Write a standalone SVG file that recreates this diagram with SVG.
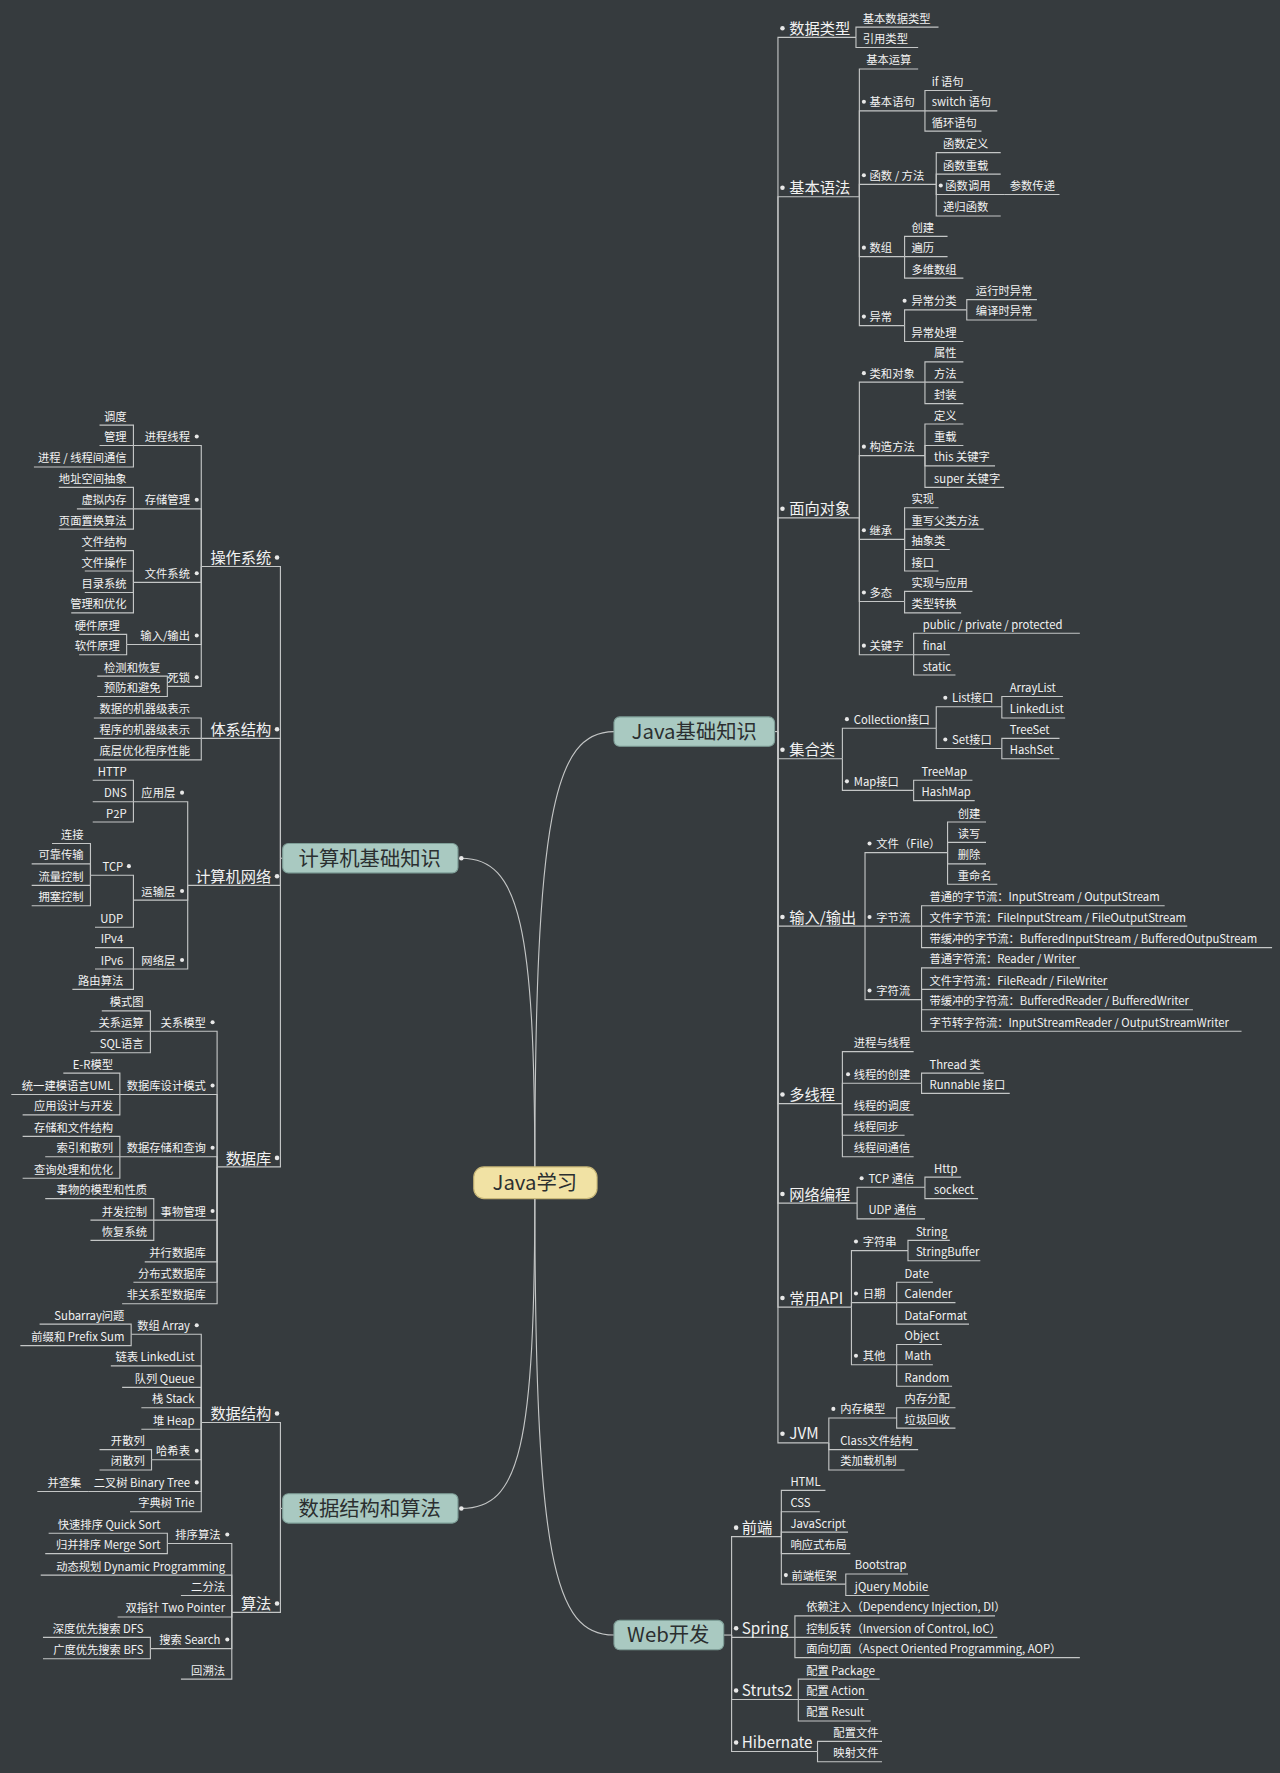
<svg xmlns="http://www.w3.org/2000/svg" width="1280" height="1773" viewBox="0 0 1280 1773">
<style>
.l{fill:none;stroke:#c4c6c6;stroke-width:1}
text{font-family:"Noto Sans CJK SC","Liberation Sans",sans-serif;fill:#f2f2f2}
.s{font-size:10px}
.c{font-size:13.5px}
.e{text-anchor:end}
.b{font-size:18px;fill:#2b2f30}
.d{fill:#e8e8e8}
.bx{fill:#a9c9c1;stroke:#7f9f98}
</style>
<rect width="1280" height="1773" fill="#363b3e"/>
<g transform="scale(1.13074)">
<g id="connectors" class="l">
<path d="M473 1040 C473 720 490 647 543 647"/>
<path d="M473 1040 C473 820 460 759 408 759"/>
<path d="M473 1052 C473 1280 460 1334 408 1334"/>
<path d="M473 1052 C473 1380 490 1446 543 1446"/>
<!-- Java trunk -->
<path d="M685 647 H688"/>
<path d="M688 647 V33 H757"/><path d="M757 33 V24 H830"/><path d="M757 33 V42 H812"/>
<path d="M688 647 V174 H760"/>
<path d="M760 174 V61 H812"/>
<path d="M760 174 V98 H818"/><path d="M818 98 V80 H860"/><path d="M818 98 H882"/><path d="M818 98 V116 H868"/>
<path d="M760 174 V163 H828"/><path d="M828 163 V135 H885"/><path d="M828 163 V154 H885"/><path d="M828 163 V172 H888"/><path d="M888 172 H937"/><path d="M828 163 V191 H885"/>
<path d="M760 174 V227 H800"/><path d="M800 227 V209 H838"/><path d="M800 227 H838"/><path d="M800 227 V246 H852"/>
<path d="M760 174 V288 H800"/><path d="M800 288 V274 H855"/><path d="M855 274 V265 H917"/><path d="M855 274 V283 H917"/><path d="M800 288 V302 H852"/>
<path d="M688 647 V458 H760"/>
<path d="M760 458 V338 H818"/><path d="M818 338 V320 H852"/><path d="M818 338 H852"/><path d="M818 338 V357 H852"/>
<path d="M760 458 V403 H818"/><path d="M818 403 V375 H852"/><path d="M818 403 V394 H852"/><path d="M818 403 V412 H880"/><path d="M818 403 V431 H888"/>
<path d="M760 458 V477 H800"/><path d="M800 477 V449 H830"/><path d="M800 477 V468 H870"/><path d="M800 477 V486 H840"/><path d="M800 477 V505 H830"/>
<path d="M760 458 V532 H800"/><path d="M800 532 V523 H860"/><path d="M800 532 V542 H850"/>
<path d="M760 458 V579 H808"/><path d="M808 579 V560 H955"/><path d="M808 579 H840"/><path d="M808 579 V597 H845"/>
<path d="M688 647 V671 H745"/>
<path d="M745 671 V644 H828"/><path d="M828 644 V625 H886"/><path d="M886 625 V616 H940"/><path d="M886 625 V635 H942"/><path d="M828 644 V662 H886"/><path d="M886 662 V653 H937"/><path d="M886 662 V671 H937"/>
<path d="M745 671 V699 H808"/><path d="M808 699 V690 H860"/><path d="M808 699 V708 H862"/>
<path d="M688 647 V819 H765"/>
<path d="M765 819 V754 H838"/><path d="M838 754 V727 H872"/><path d="M838 754 V745 H872"/><path d="M838 754 V764 H872"/><path d="M838 754 V782 H882"/>
<path d="M765 819 H815"/><path d="M815 819 V801 H1030"/><path d="M815 819 H1050"/><path d="M815 819 V838 H1125"/>
<path d="M765 819 V884 H815"/><path d="M815 884 V856 H955"/><path d="M815 884 V875 H980"/><path d="M815 884 V893 H1055"/><path d="M815 884 V912 H1098"/>
<path d="M688 647 V976 H745"/>
<path d="M745 976 V930 H808"/><path d="M745 976 V958 H815"/><path d="M815 958 V949 H870"/><path d="M815 958 V967 H893"/><path d="M745 976 V986 H808"/><path d="M745 976 V1004 H800"/><path d="M745 976 V1023 H808"/>
<path d="M688 647 V1064 H758"/>
<path d="M758 1064 V1050 H818"/><path d="M818 1050 V1041 H850"/><path d="M818 1050 V1060 H865"/><path d="M758 1064 V1078 H818"/>
<path d="M688 647 V1156 H753"/>
<path d="M753 1156 V1106 H803"/><path d="M803 1106 V1097 H840"/><path d="M803 1106 V1115 H867"/>
<path d="M753 1156 V1152 H793"/><path d="M793 1152 V1134 H825"/><path d="M793 1152 H845"/><path d="M793 1152 V1171 H857"/>
<path d="M753 1156 V1207 H793"/><path d="M793 1207 V1189 H833"/><path d="M793 1207 H825"/><path d="M793 1207 V1226 H842"/>
<path d="M688 647 V1276 H733"/>
<path d="M733 1276 V1254 H793"/><path d="M793 1254 V1245 H845"/><path d="M793 1254 V1263 H845"/><path d="M733 1276 V1282 H812"/><path d="M733 1276 V1300 H800"/>
<!-- Web -->
<path d="M640 1446 H647"/>
<path d="M647 1446 V1359 H691"/><path d="M691 1359 V1318 H730"/><path d="M691 1359 V1337 H725"/><path d="M691 1359 V1355 H750"/><path d="M691 1359 V1374 H752"/><path d="M691 1359 V1401 H748"/><path d="M748 1401 V1392 H803"/><path d="M748 1401 V1411 H822"/>
<path d="M647 1446 V1448 H703"/><path d="M703 1448 V1429 H880"/><path d="M703 1448 H882"/><path d="M703 1448 V1466 H955"/>
<path d="M647 1446 V1503 H706"/><path d="M706 1503 V1485 H778"/><path d="M706 1503 H768"/><path d="M706 1503 V1522 H770"/>
<path d="M647 1446 V1549 H723"/><path d="M723 1549 V1540 H780"/><path d="M723 1549 V1558 H780"/>
<!-- Computer basics -->
<path d="M250 759 H248"/>
<path d="M248 759 V501 H178"/>
<path d="M178 501 V394 H118"/><path d="M118 394 V376 H88"/><path d="M118 394 H88"/><path d="M118 394 V413 H30"/>
<path d="M178 501 V450 H118"/><path d="M118 450 V431 H52"/><path d="M118 450 H68"/><path d="M118 450 V468 H52"/>
<path d="M178 501 V515 H118"/><path d="M118 515 V487 H75"/><path d="M118 515 V505 H75"/><path d="M118 515 V524 H75"/><path d="M118 515 V542 H63"/>
<path d="M178 501 V570 H112"/><path d="M112 570 V561 H70"/><path d="M112 570 V579 H70"/>
<path d="M178 501 V607 H148"/><path d="M148 607 V598 H86"/><path d="M148 607 V616 H86"/>
<path d="M248 759 V653 H178"/><path d="M178 653 V635 H83"/><path d="M178 653 H83"/><path d="M178 653 V672 H83"/>
<path d="M248 759 V783 H166"/>
<path d="M166 783 V709 H118"/><path d="M118 709 V690 H82"/><path d="M118 709 H82"/><path d="M118 709 V727 H82"/>
<path d="M166 783 V796 H118"/><path d="M118 796 V774 H80"/><path d="M80 774 V746 H46"/><path d="M80 774 V764 H28"/><path d="M80 774 V783 H28"/><path d="M80 774 V801 H28"/><path d="M118 796 V820 H84"/>
<path d="M166 783 V857 H118"/><path d="M118 857 V838 H84"/><path d="M118 857 H84"/><path d="M118 857 V875 H64"/>
<path d="M248 759 V1032 H192"/>
<path d="M192 1032 V912 H133"/><path d="M133 912 V894 H90"/><path d="M133 912 H80"/><path d="M133 912 V931 H80"/>
<path d="M192 1032 V968 H106"/><path d="M106 968 V949 H56"/><path d="M106 968 H10"/><path d="M106 968 V986 H20"/>
<path d="M192 1032 V1023 H106"/><path d="M106 1023 V1005 H20"/><path d="M106 1023 H40"/><path d="M106 1023 V1042 H20"/>
<path d="M192 1032 V1079 H136"/><path d="M136 1079 V1060 H40"/><path d="M136 1079 H80"/><path d="M136 1079 V1097 H80"/>
<path d="M192 1032 V1116 H128"/><path d="M192 1032 V1134 H118"/><path d="M192 1032 V1153 H108"/>
<!-- DS & Algo -->
<path d="M250 1334 H248"/>
<path d="M248 1334 V1258 H178"/>
<path d="M178 1258 V1180 H116"/><path d="M116 1180 V1171 H35"/><path d="M116 1180 V1190 H18"/>
<path d="M178 1258 V1208 H98"/><path d="M178 1258 V1227 H108"/><path d="M178 1258 V1245 H125"/><path d="M178 1258 V1264 H125"/>
<path d="M178 1258 V1291 H134"/><path d="M134 1291 V1282 H88"/><path d="M134 1291 V1300 H88"/>
<path d="M178 1258 V1319 H78"/><path d="M78 1319 H33"/>
<path d="M178 1258 V1337 H115"/>
<path d="M248 1334 V1426 H205"/>
<path d="M205 1426 V1365 H148"/><path d="M148 1365 V1356 H43"/><path d="M148 1365 V1374 H40"/>
<path d="M205 1426 V1393 H36"/><path d="M205 1426 V1411 H160"/><path d="M205 1426 V1430 H104"/>
<path d="M205 1426 V1458 H133"/><path d="M133 1458 V1448 H38"/><path d="M133 1458 V1467 H38"/>
<path d="M205 1426 V1485 H160"/>
</g>

<g id="root"><rect x="419" y="1032" width="109" height="28" rx="9" fill="#f1e2a4" stroke="#c9b878"/><text class="b" x="473" y="1052.5" text-anchor="middle">Java学习</text></g>
<g id="java-basics"><rect class="bx" x="543" y="634" width="142" height="26" rx="5"/><text class="b" x="614" y="653.5" text-anchor="middle">Java基础知识</text></g>
<g id="cs-basics"><rect class="bx" x="250" y="746" width="155" height="26" rx="5"/><text class="b" x="327" y="765.5" text-anchor="middle">计算机基础知识</text><circle class="d" cx="408" cy="759" r="2"/></g>
<g id="ds-algo"><rect class="bx" x="250" y="1321" width="155" height="26" rx="5"/><text class="b" x="327" y="1340.5" text-anchor="middle">数据结构和算法</text><circle class="d" cx="408" cy="1334" r="2"/></g>
<g id="web"><rect class="bx" x="543" y="1433" width="97" height="26" rx="5"/><text class="b" x="591" y="1452.5" text-anchor="middle">Web开发</text></g>

<g id="java-nodes">
<circle class="d" cx="692" cy="25" r="2"/><text class="c" x="698" y="30">数据类型</text>
<text class="s" x="763" y="20">基本数据类型</text><text class="s" x="763" y="38">引用类型</text>
<circle class="d" cx="692" cy="166" r="2"/><text class="c" x="698" y="171">基本语法</text>
<text class="s" x="766" y="57">基本运算</text>
<circle class="d" cx="764" cy="90" r="1.8"/><text class="s" x="769" y="94">基本语句</text>
<text class="s" x="824" y="76">if 语句</text><text class="s" x="824" y="94">switch 语句</text><text class="s" x="824" y="112">循环语句</text>
<circle class="d" cx="764" cy="155" r="1.8"/><text class="s" x="769" y="159">函数 / 方法</text>
<text class="s" x="834" y="131">函数定义</text><text class="s" x="834" y="150">函数重载</text><circle class="d" cx="832" cy="164" r="1.8"/><text class="s" x="836" y="168">函数调用</text><text class="s" x="893" y="168">参数传递</text><text class="s" x="834" y="187">递归函数</text>
<circle class="d" cx="764" cy="219" r="1.8"/><text class="s" x="769" y="223">数组</text>
<text class="s" x="806" y="205">创建</text><text class="s" x="806" y="223">遍历</text><text class="s" x="806" y="242">多维数组</text>
<circle class="d" cx="764" cy="280" r="1.8"/><text class="s" x="769" y="284">异常</text>
<circle class="d" cx="800" cy="266" r="1.8"/><text class="s" x="806" y="270">异常分类</text><text class="s" x="863" y="261">运行时异常</text><text class="s" x="863" y="279">编译时异常</text><text class="s" x="806" y="298">异常处理</text>
<circle class="d" cx="692" cy="450" r="2"/><text class="c" x="698" y="455">面向对象</text>
<circle class="d" cx="764" cy="330" r="1.8"/><text class="s" x="769" y="334">类和对象</text>
<text class="s" x="826" y="316">属性</text><text class="s" x="826" y="334">方法</text><text class="s" x="826" y="353">封装</text>
<circle class="d" cx="764" cy="395" r="1.8"/><text class="s" x="769" y="399">构造方法</text>
<text class="s" x="826" y="371">定义</text><text class="s" x="826" y="390">重载</text><text class="s" x="826" y="408">this 关键字</text><text class="s" x="826" y="427">super 关键字</text>
<circle class="d" cx="764" cy="469" r="1.8"/><text class="s" x="769" y="473">继承</text>
<text class="s" x="806" y="445">实现</text><text class="s" x="806" y="464">重写父类方法</text><text class="s" x="806" y="482">抽象类</text><text class="s" x="806" y="501">接口</text>
<circle class="d" cx="764" cy="524" r="1.8"/><text class="s" x="769" y="528">多态</text>
<text class="s" x="806" y="519">实现与应用</text><text class="s" x="806" y="538">类型转换</text>
<circle class="d" cx="764" cy="571" r="1.8"/><text class="s" x="769" y="575">关键字</text>
<text class="s" x="816" y="556">public / private / protected</text><text class="s" x="816" y="575">final</text><text class="s" x="816" y="593">static</text>
<circle class="d" cx="692" cy="663" r="2"/><text class="c" x="698" y="668">集合类</text>
<circle class="d" cx="749" cy="636" r="1.8"/><text class="s" x="755" y="640">Collection接口</text>
<circle class="d" cx="836" cy="617" r="1.8"/><text class="s" x="842" y="621">List接口</text><text class="s" x="893" y="612">ArrayList</text><text class="s" x="893" y="631">LinkedList</text>
<circle class="d" cx="836" cy="654" r="1.8"/><text class="s" x="842" y="658">Set接口</text><text class="s" x="893" y="649">TreeSet</text><text class="s" x="893" y="667">HashSet</text>
<circle class="d" cx="749" cy="691" r="1.8"/><text class="s" x="755" y="695">Map接口</text><text class="s" x="815" y="686">TreeMap</text><text class="s" x="815" y="704">HashMap</text>
<circle class="d" cx="692" cy="811" r="2"/><text class="c" x="698" y="816">输入/输出</text>
<circle class="d" cx="769" cy="746" r="1.8"/><text class="s" x="775" y="750">文件（File）</text>
<text class="s" x="847" y="723">创建</text><text class="s" x="847" y="741">读写</text><text class="s" x="847" y="760">删除</text><text class="s" x="847" y="778">重命名</text>
<circle class="d" cx="769" cy="811" r="1.8"/><text class="s" x="775" y="815">字节流</text>
<text class="s" x="822" y="797">普通的字节流：InputStream / OutputStream</text><text class="s" x="822" y="815">文件字节流：FileInputStream / FileOutputStream</text><text class="s" x="822" y="834">带缓冲的字节流：BufferedInputStream / BufferedOutpuStream</text>
<circle class="d" cx="769" cy="876" r="1.8"/><text class="s" x="775" y="880">字符流</text>
<text class="s" x="822" y="852">普通字符流：Reader / Writer</text><text class="s" x="822" y="871">文件字符流：FileReadr / FileWriter</text><text class="s" x="822" y="889">带缓冲的字符流：BufferedReader / BufferedWriter</text><text class="s" x="822" y="908">字节转字符流：InputStreamReader / OutputStreamWriter</text>
<circle class="d" cx="692" cy="968" r="2"/><text class="c" x="698" y="973">多线程</text>
<text class="s" x="755" y="926">进程与线程</text><circle class="d" cx="750" cy="950" r="1.8"/><text class="s" x="755" y="954">线程的创建</text>
<text class="s" x="822" y="945">Thread 类</text><text class="s" x="822" y="963">Runnable 接口</text>
<text class="s" x="755" y="982">线程的调度</text><text class="s" x="755" y="1000">线程同步</text><text class="s" x="755" y="1019">线程间通信</text>
<circle class="d" cx="692" cy="1056" r="2"/><text class="c" x="698" y="1061">网络编程</text>
<circle class="d" cx="762" cy="1042" r="1.8"/><text class="s" x="768" y="1046">TCP 通信</text><text class="s" x="826" y="1037">Http</text><text class="s" x="826" y="1056">sockect</text><text class="s" x="768" y="1074">UDP 通信</text>
<circle class="d" cx="692" cy="1148" r="2"/><text class="c" x="698" y="1153">常用API</text>
<circle class="d" cx="757" cy="1098" r="1.8"/><text class="s" x="763" y="1102">字符串</text><text class="s" x="810" y="1093">String</text><text class="s" x="810" y="1111">StringBuffer</text>
<circle class="d" cx="757" cy="1144" r="1.8"/><text class="s" x="763" y="1148">日期</text><text class="s" x="800" y="1130">Date</text><text class="s" x="800" y="1148">Calender</text><text class="s" x="800" y="1167">DataFormat</text>
<circle class="d" cx="757" cy="1199" r="1.8"/><text class="s" x="763" y="1203">其他</text><text class="s" x="800" y="1185">Object</text><text class="s" x="800" y="1203">Math</text><text class="s" x="800" y="1222">Random</text>
<circle class="d" cx="692" cy="1268" r="2"/><text class="c" x="698" y="1273">JVM</text>
<circle class="d" cx="737" cy="1246" r="1.8"/><text class="s" x="743" y="1250">内存模型</text><text class="s" x="800" y="1241">内存分配</text><text class="s" x="800" y="1259">垃圾回收</text>
<text class="s" x="743" y="1278">Class文件结构</text><text class="s" x="743" y="1296">类加载机制</text>
</g>

<g id="web-nodes">
<circle class="d" cx="651" cy="1351" r="2"/><text class="c" x="656" y="1356">前端</text>
<text class="s" x="699" y="1314">HTML</text><text class="s" x="699" y="1333">CSS</text><text class="s" x="699" y="1351">JavaScript</text><text class="s" x="699" y="1370">响应式布局</text>
<circle class="d" cx="695" cy="1393" r="1.8"/><text class="s" x="700" y="1397">前端框架</text><text class="s" x="756" y="1388">Bootstrap</text><text class="s" x="756" y="1407">jQuery Mobile</text>
<circle class="d" cx="651" cy="1440" r="2"/><text class="c" x="656" y="1445">Spring</text>
<text class="s" x="713" y="1425">依赖注入（Dependency Injection, DI）</text><text class="s" x="713" y="1444">控制反转（Inversion of Control, IoC）</text><text class="s" x="713" y="1462">面向切面（Aspect Oriented Programming, AOP）</text>
<circle class="d" cx="651" cy="1495" r="2"/><text class="c" x="656" y="1500">Struts2</text>
<text class="s" x="713" y="1481">配置 Package</text><text class="s" x="713" y="1499">配置 Action</text><text class="s" x="713" y="1518">配置 Result</text>
<circle class="d" cx="651" cy="1541" r="2"/><text class="c" x="656" y="1546">Hibernate</text>
<text class="s" x="737" y="1536">配置文件</text><text class="s" x="737" y="1554">映射文件</text>
</g>

<g id="cs-nodes">
<text class="c e" x="240" y="498">操作系统</text><circle class="d" cx="245" cy="493" r="2"/>
<text class="s e" x="168" y="390">进程线程</text><circle class="d" cx="174" cy="386" r="1.8"/>
<text class="s e" x="112" y="372">调度</text><text class="s e" x="112" y="390">管理</text><text class="s e" x="112" y="409">进程 / 线程间通信</text>
<text class="s e" x="168" y="446">存储管理</text><circle class="d" cx="174" cy="442" r="1.8"/>
<text class="s e" x="112" y="427">地址空间抽象</text><text class="s e" x="112" y="446">虚拟内存</text><text class="s e" x="112" y="464">页面置换算法</text>
<text class="s e" x="168" y="511">文件系统</text><circle class="d" cx="174" cy="507" r="1.8"/>
<text class="s e" x="112" y="483">文件结构</text><text class="s e" x="112" y="501">文件操作</text><text class="s e" x="112" y="520">目录系统</text><text class="s e" x="112" y="538">管理和优化</text>
<text class="s e" x="168" y="566">输入/输出</text><circle class="d" cx="174" cy="562" r="1.8"/>
<text class="s e" x="106" y="557">硬件原理</text><text class="s e" x="106" y="575">软件原理</text>
<text class="s e" x="168" y="603">死锁</text><circle class="d" cx="174" cy="599" r="1.8"/>
<text class="s e" x="142" y="594">检测和恢复</text><text class="s e" x="142" y="612">预防和避免</text>
<text class="c e" x="240" y="650">体系结构</text><circle class="d" cx="245" cy="645" r="2"/>
<text class="s e" x="168" y="631">数据的机器级表示</text><text class="s e" x="168" y="649">程序的机器级表示</text><text class="s e" x="168" y="668">底层优化程序性能</text>
<text class="c e" x="240" y="780">计算机网络</text><circle class="d" cx="245" cy="775" r="2"/>
<text class="s e" x="155" y="705">应用层</text><circle class="d" cx="161" cy="701" r="1.8"/>
<text class="s e" x="112" y="686">HTTP</text><text class="s e" x="112" y="705">DNS</text><text class="s e" x="112" y="723">P2P</text>
<text class="s e" x="155" y="792">运输层</text><circle class="d" cx="161" cy="788" r="1.8"/>
<text class="s e" x="109" y="770">TCP</text><circle class="d" cx="114" cy="766" r="1.8"/>
<text class="s e" x="74" y="742">连接</text><text class="s e" x="74" y="760">可靠传输</text><text class="s e" x="74" y="779">流量控制</text><text class="s e" x="74" y="797">拥塞控制</text>
<text class="s e" x="109" y="816">UDP</text>
<text class="s e" x="155" y="853">网络层</text><circle class="d" cx="161" cy="849" r="1.8"/>
<text class="s e" x="109" y="834">IPv4</text><text class="s e" x="109" y="853">IPv6</text><text class="s e" x="109" y="871">路由算法</text>
<text class="c e" x="240" y="1029">数据库</text><circle class="d" cx="245" cy="1024" r="2"/>
<text class="s e" x="182" y="908">关系模型</text><circle class="d" cx="188" cy="904" r="1.8"/>
<text class="s e" x="127" y="890">模式图</text><text class="s e" x="127" y="908">关系运算</text><text class="s e" x="127" y="927">SQL语言</text>
<text class="s e" x="182" y="964">数据库设计模式</text><circle class="d" cx="188" cy="960" r="1.8"/>
<text class="s e" x="100" y="945">E-R模型</text><text class="s e" x="100" y="964">统一建模语言UML</text><text class="s e" x="100" y="982">应用设计与开发</text>
<text class="s e" x="182" y="1019">数据存储和查询</text><circle class="d" cx="188" cy="1015" r="1.8"/>
<text class="s e" x="100" y="1001">存储和文件结构</text><text class="s e" x="100" y="1019">索引和散列</text><text class="s e" x="100" y="1038">查询处理和优化</text>
<text class="s e" x="182" y="1075">事物管理</text><circle class="d" cx="188" cy="1071" r="1.8"/>
<text class="s e" x="130" y="1056">事物的模型和性质</text><text class="s e" x="130" y="1075">并发控制</text><text class="s e" x="130" y="1093">恢复系统</text>
<text class="s e" x="182" y="1112">并行数据库</text><text class="s e" x="182" y="1130">分布式数据库</text><text class="s e" x="182" y="1149">非关系型数据库</text>
</g>

<g id="ds-nodes">
<text class="c e" x="240" y="1255">数据结构</text><circle class="d" cx="245" cy="1250" r="2"/>
<text class="s e" x="168" y="1176">数组 Array</text><circle class="d" cx="174" cy="1172" r="1.8"/>
<text class="s e" x="110" y="1167">Subarray问题</text><text class="s e" x="110" y="1186">前缀和 Prefix Sum</text>
<text class="s e" x="172" y="1204">链表 LinkedList</text><text class="s e" x="172" y="1223">队列 Queue</text><text class="s e" x="172" y="1241">栈 Stack</text><text class="s e" x="172" y="1260">堆 Heap</text>
<text class="s e" x="168" y="1287">哈希表</text><circle class="d" cx="174" cy="1283" r="1.8"/>
<text class="s e" x="128" y="1278">开散列</text><text class="s e" x="128" y="1296">闭散列</text>
<text class="s e" x="168" y="1315">二叉树 Binary Tree</text><circle class="d" cx="174" cy="1311" r="1.8"/>
<text class="s e" x="72" y="1315">并查集</text>
<text class="s e" x="172" y="1333">字典树 Trie</text>
<text class="c e" x="240" y="1423">算法</text><circle class="d" cx="245" cy="1418" r="2"/>
<text class="s e" x="195" y="1361">排序算法</text><circle class="d" cx="201" cy="1357" r="1.8"/>
<text class="s e" x="142" y="1352">快速排序 Quick Sort</text><text class="s e" x="142" y="1370">归并排序 Merge Sort</text>
<text class="s e" x="199" y="1389">动态规划 Dynamic Programming</text><text class="s e" x="199" y="1407">二分法</text><text class="s e" x="199" y="1426">双指针 Two Pointer</text>
<text class="s e" x="195" y="1454">搜索 Search</text><circle class="d" cx="201" cy="1450" r="1.8"/>
<text class="s e" x="127" y="1444">深度优先搜索 DFS</text><text class="s e" x="127" y="1463">广度优先搜索 BFS</text>
<text class="s e" x="199" y="1481">回溯法</text>
</g>
</g>
</svg>
